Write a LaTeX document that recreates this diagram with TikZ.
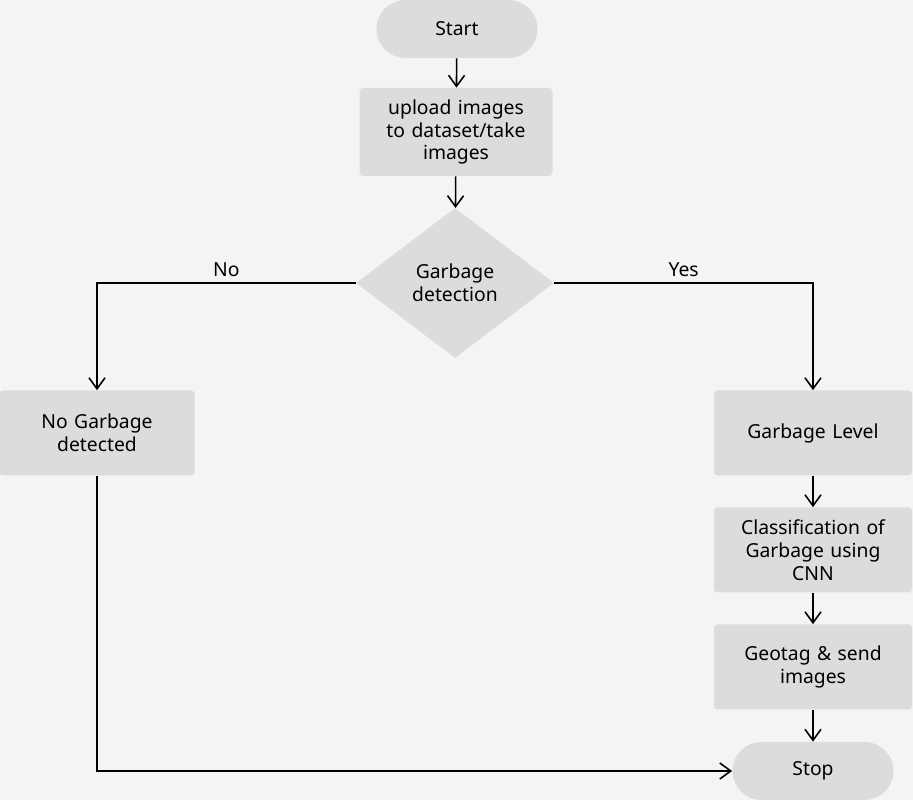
\documentclass[tikz,border=0pt]{standalone}
\usepackage{fontspec}
\setmainfont{Noto Sans}
\usetikzlibrary{shapes.geometric, arrows.meta, positioning}
\definecolor{boxgray}{HTML}{DCDCDC}
\definecolor{bggray}{HTML}{F4F4F4}
\begin{document}
\begin{tikzpicture}[font=\fontsize{11}{13}\selectfont]
\tikzstyle{terminal} = [rectangle, rounded corners=0.58cm, minimum width=3.22cm, minimum height=1.16cm, text centered, fill=boxgray]
\tikzstyle{block} = [rectangle, rounded corners=2pt, minimum width=3.9cm, minimum height=1.7cm, text width=3.5cm, align=center, fill=boxgray]
\tikzstyle{decision} = [diamond, aspect=1.32, minimum width=3.96cm, minimum height=3cm, inner sep=0pt, align=center, fill=boxgray]
\tikzstyle{line} = [draw, line width=0.9pt, -{Straight Barb[length=2.2mm, width=3.2mm]}]

\fill[bggray] (0,0) rectangle (18.26,-16);
\useasboundingbox (0,0) rectangle (18.26,-16);

\node (start) [terminal] at (9.14,-0.58) {Start};
\node (upload) [block, minimum width=3.86cm, minimum height=1.76cm] at (9.12,-2.64) {upload images\\to dataset/take\\images};
\node (detect) [decision] at (9.1,-5.66) {Garbage\\detection};
\node (nogarb) [block] at (1.94,-8.66) {No Garbage\\detected};
\node (level) [block, minimum width=3.96cm] at (16.26,-8.66) {Garbage Level};
\node (classify) [block, minimum width=3.96cm] at (16.26,-11) {Classification of\\Garbage using\\CNN};
\node (geotag) [block, minimum width=3.96cm] at (16.26,-13.34) {Geotag \& send\\images};
\node (stop) [terminal] at (16.26,-15.42) {Stop};

\path [line] (start) -- (upload);
\path [line] (upload) -- (detect);
\path [line] (detect.west) -| node [pos=0.25, above] {No} (nogarb.north);
\path [line] (detect.east) -| node [pos=0.25, above] {Yes} (level.north);
\path [line] (nogarb.south) |- (stop.west);
\path [line] (level) -- (classify);
\path [line] (classify) -- (geotag);
\path [line] (geotag) -- (stop);

\end{tikzpicture}
\end{document}
